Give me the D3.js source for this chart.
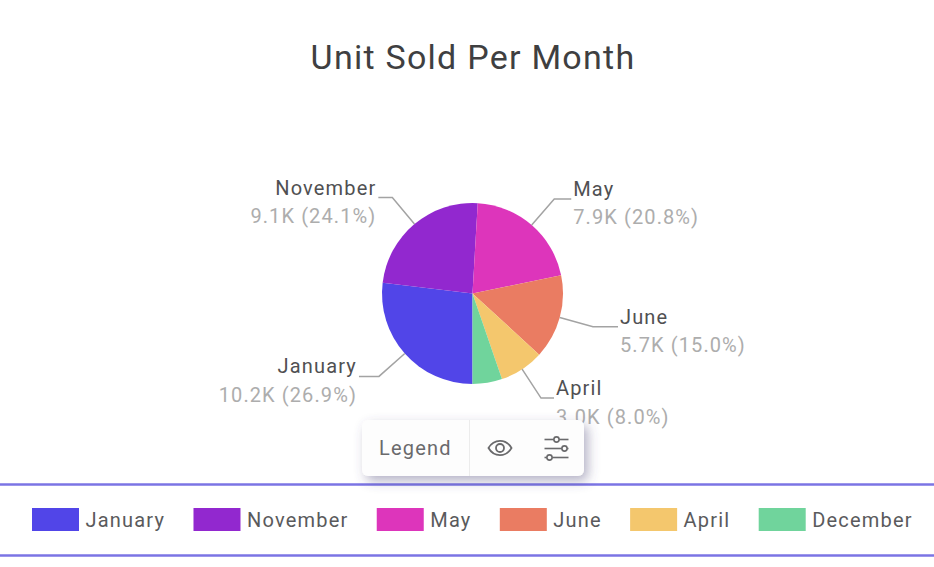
<!DOCTYPE html>
<html>
<head>
<meta charset="utf-8">
<script src="https://cdn.jsdelivr.net/npm/d3@7"></script>
<style>
  html, body { margin: 0; padding: 0; background: #fff; overflow: hidden; }
  text { font-family: Roboto, sans-serif; }
</style>
</head>
<body>
<svg id="chart" width="934" height="567"></svg>
<script>
const chartTitle = "Unit Sold Per Month";
const months = ["January", "November", "May", "June", "April", "December"];
const unitsSold = [10.2, 9.1, 7.9, 5.7, 3.0, 2.0];
const shareLabels = ["26.9%", "24.1%", "20.8%", "15.0%", "8.0%", "5.2%"];
const sliceColors = ["#5145e8", "#9228cf", "#dd35bb", "#ea7c62", "#f4c76d", "#70d49c"];

const width = 934, height = 567;
const cx = 472.5, cy = 293.5, radius = 90.5, elbowRadius = 125;
const minLabelledShare = 0.06;
// Horizontal run of each leader line after its elbow
const leaderRun = [20, 14, 17, 25, 13, 0];

const svg = d3.select("#chart");
const color = d3.scaleOrdinal(months, sliceColors);
const total = d3.sum(unitsSold);

svg.append("text")
  .attr("x", 473).attr("y", 69)
  .attr("text-anchor", "middle")
  .attr("font-size", 34).attr("letter-spacing", 1.25)
  .attr("fill", "#3f3f41")
  .text(chartTitle);

// Pie, clockwise from the bottom of the circle
const pie = d3.pie().sort(null).value(d => d.value)
  .startAngle(Math.PI).endAngle(3 * Math.PI);
const slices = pie(months.map((m, i) => ({ month: m, value: unitsSold[i], share: shareLabels[i], run: leaderRun[i] })));
const arc = d3.arc().innerRadius(0).outerRadius(radius);
const plot = svg.append("g").attr("transform", `translate(${cx},${cy})`);

plot.selectAll("path.slice").data(slices).join("path")
  .attr("class", "slice")
  .attr("d", arc)
  .attr("fill", d => color(d.data.month));

// Leader lines and two-line labels for the larger slices
const polar = (a, r) => [r * Math.sin(a), -r * Math.cos(a)];
const labelled = slices.filter(d => d.value / total >= minLabelledShare).map(d => {
  const mid = (d.startAngle + d.endAngle) / 2;
  const start = polar(mid, radius);
  const elbow = polar(mid, elbowRadius);
  const side = elbow[0] >= 0 ? 1 : -1;
  return { ...d, start, elbow, side, end: [elbow[0] + side * d.data.run, elbow[1]] };
});

plot.selectAll("path.leader").data(labelled).join("path")
  .attr("class", "leader")
  .attr("fill", "none").attr("stroke", "#a3a3a3").attr("stroke-width", 1.5)
  .attr("d", d => d3.line()([d.start, d.elbow, d.end]));

const labels = plot.selectAll("g.label").data(labelled).join("g")
  .attr("class", "label")
  .attr("text-anchor", d => d.side > 0 ? "start" : "end")
  .attr("transform", d => `translate(${d.end[0] + d.side * 2},${d.end[1]})`);
labels.append("text").attr("y", -3)
  .attr("font-size", 20).attr("letter-spacing", 1.15).attr("fill", "#505052")
  .text(d => d.data.month);
labels.append("text").attr("y", 25.5)
  .attr("font-size", 20).attr("letter-spacing", 1.1).attr("fill", "#adadad")
  .text(d => `${d.data.value.toFixed(1)}K (${d.data.share})`);

// Legend band between two rules
svg.selectAll("line.rule").data([484.5, 555.5]).join("line")
  .attr("class", "rule")
  .attr("x1", 0).attr("x2", width)
  .attr("y1", d => d).attr("y2", d => d)
  .attr("stroke", "#7b74e4").attr("stroke-width", 2.6);

const legendItems = svg.append("g").selectAll("g").data(months).join("g");
legendItems.append("rect")
  .attr("y", 508).attr("width", 47).attr("height", 23)
  .attr("fill", d => color(d));
legendItems.append("text")
  .attr("x", 53.5).attr("y", 527)
  .attr("font-size", 20).attr("letter-spacing", 1.2).attr("fill", "#5a5a5c")
  .text(d => d);
let legendX = 32;
legendItems.each(function () {
  const item = d3.select(this);
  item.attr("transform", `translate(${legendX},0)`);
  legendX += 53.5 + item.select("text").node().getComputedTextLength() + 28.3;
});

// Floating legend toolbar, laid over the labels
const defs = svg.append("defs");
const shadow = defs.append("filter").attr("id", "toolbarShadow")
  .attr("x", "-20%").attr("y", "-40%").attr("width", "140%").attr("height", "200%");
shadow.append("feDropShadow")
  .attr("dx", 4).attr("dy", 5).attr("stdDeviation", 6)
  .attr("flood-color", "#4b4a78").attr("flood-opacity", 0.42);

const toolbar = svg.append("g").attr("transform", "translate(362,420)");
toolbar.append("rect")
  .attr("width", 222).attr("height", 56).attr("rx", 6)
  .attr("fill", "#fdfdfd").attr("filter", "url(#toolbarShadow)");
toolbar.append("line")
  .attr("x1", 107.5).attr("x2", 107.5).attr("y1", 0).attr("y2", 56)
  .attr("stroke", "#ececec").attr("stroke-width", 1);
toolbar.append("text")
  .attr("x", 17).attr("y", 35)
  .attr("font-size", 20).attr("letter-spacing", 1.2).attr("fill", "#6a6a6c")
  .text("Legend");

const eye = toolbar.append("g")
  .attr("transform", "translate(138,28)")
  .attr("fill", "none").attr("stroke", "#6a6a6c").attr("stroke-width", 1.8);
eye.append("path").attr("d", "M-11.5,0 C-6,-9.5 6,-9.5 11.5,0 C6,9.5 -6,9.5 -11.5,0 Z");
eye.append("circle").attr("r", 4);

const sliderRows = [[-9, 0], [0, 8], [9, -7]];
const sliders = toolbar.append("g")
  .attr("transform", "translate(194.5,28.5)")
  .attr("fill", "#fdfdfd").attr("stroke", "#6a6a6c").attr("stroke-width", 1.6);
sliders.selectAll("line").data(sliderRows).join("line")
  .attr("x1", -12).attr("x2", 12)
  .attr("y1", d => d[0]).attr("y2", d => d[0]);
sliders.selectAll("circle").data(sliderRows).join("circle")
  .attr("cx", d => d[1]).attr("cy", d => d[0]).attr("r", 2.6);
</script>
</body>
</html>
